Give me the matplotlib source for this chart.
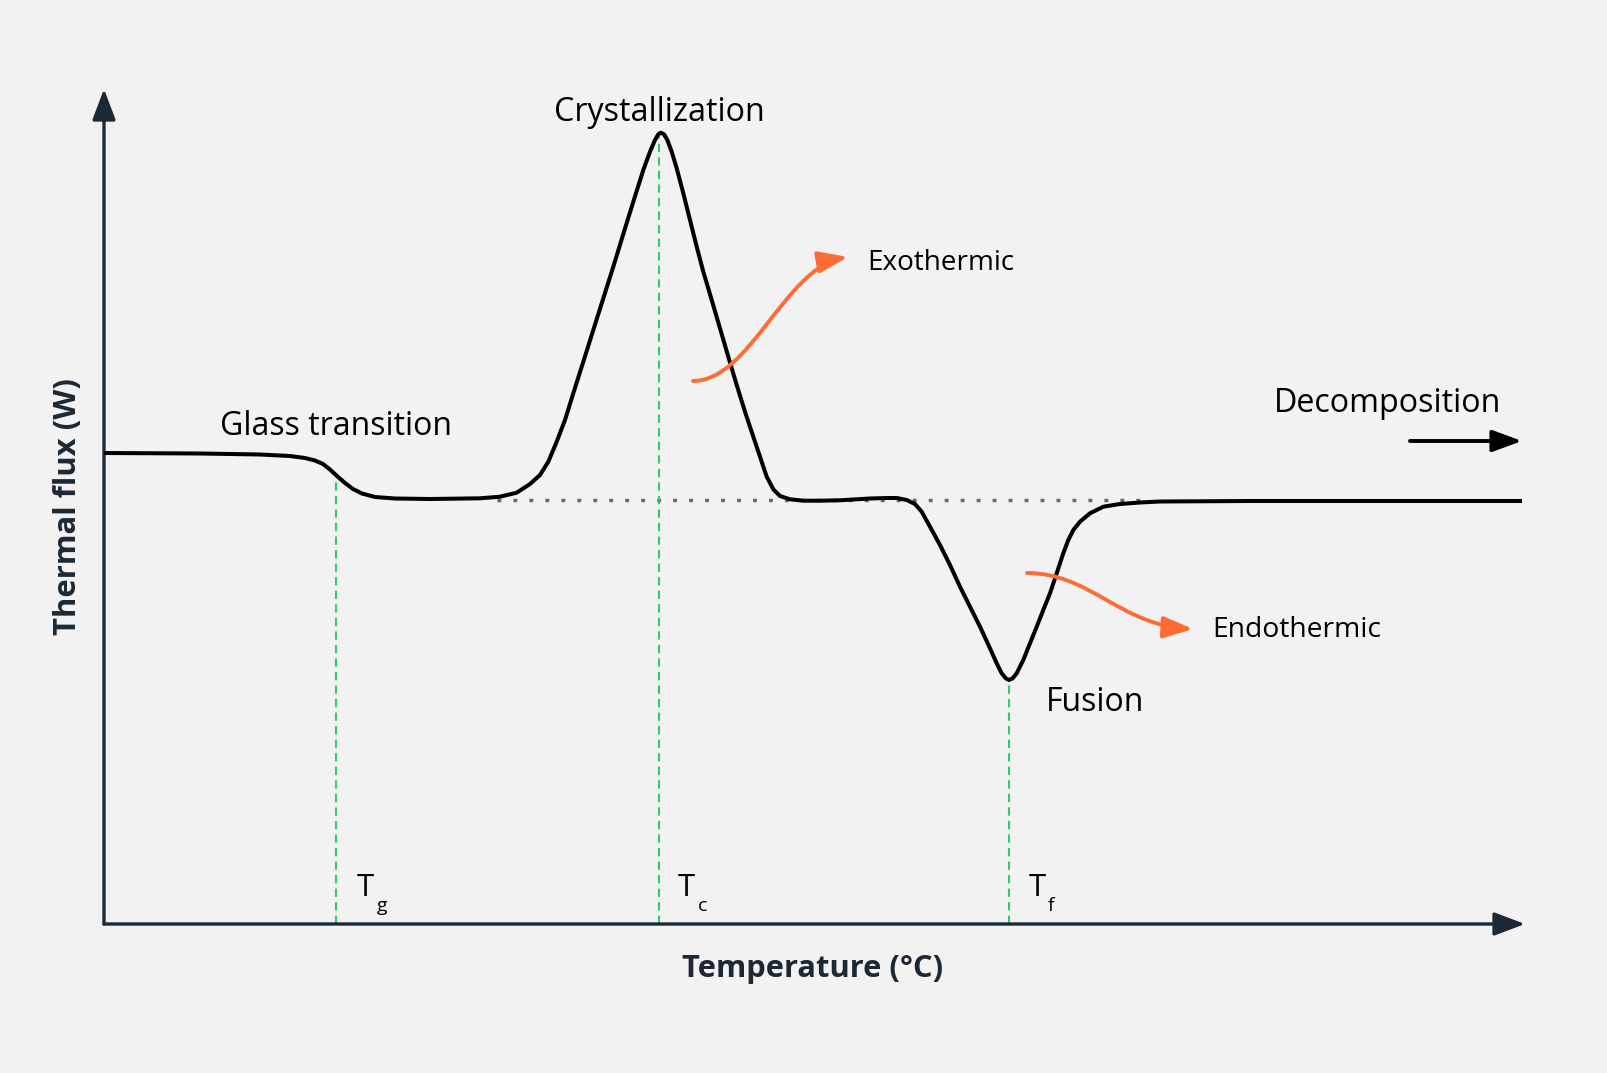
import matplotlib
matplotlib.use("Agg")
import matplotlib.pyplot as plt
from matplotlib.patches import FancyArrowPatch
from matplotlib.path import Path

# ---------------- data (arbitrary units: temperature 0-1418, thermal flux 0-834) ----------------
temperature = [0, 96, 156, 186, 201, 211, 219, 226, 233, 241, 249, 258, 271, 291, 326,
               376, 396, 412.7, 426, 436, 444.3, 452.7, 461, 469.3, 479.3, 489.3, 499.3,
               509.3, 519.3, 529.3, 539.3, 546, 551, 554.3, 556.7, 560, 563.3, 567.7,
               572.7, 579.3, 586, 592.7, 599.3, 607.7, 616, 624.3, 632.7, 641, 649.3,
               656, 662.7, 669.3, 676, 686, 699.3, 716, 736, 766, 783, 792.7, 802.7, 811,
               817.7, 826, 836, 846, 856, 866, 876, 886, 892.7, 897.7, 901.7, 905, 908.7,
               912.7, 919.3, 926, 932.7, 939.3, 946, 952.7, 959.3, 964.3, 969.3, 976, 986,
               999.3, 1016, 1036, 1056, 1146, 1418]
flux = [471, 470.5, 469.5, 468, 466, 463.5, 460, 454.5, 448, 441, 435, 430.5, 427, 425.5,
        425, 425.7, 427.3, 431.3, 440, 449, 462.3, 482.3, 504, 530.7, 562.3, 594, 625.7,
        657.3, 690, 722.3, 754, 772.3, 784, 789.7, 791.3, 789.7, 784, 772.3, 755.7,
        730.7, 704, 677.3, 652.3, 624, 595.7, 567.3, 539, 512.3, 487.3, 467.3, 447.3,
        434.7, 428, 424.7, 423.3, 423.3, 423.7, 425.5, 426, 426, 424, 420, 412.3, 397.3,
        379, 359, 337.3, 317.3, 297.3, 275.7, 260.7, 250.7, 245.7, 244, 245.7, 250.7,
        264, 280.7, 297.3, 314, 330.7, 350.7, 370.7, 384, 394, 402.3, 410.7, 417.3,
        420, 421.5, 422.5, 423, 423]

baseline_range = [393, 1036]
baseline_flux = 424.5

transition_names = ["g", "c", "f"]
transition_temps = [231.7, 555.3, 904.5]
transition_flux = [450, 791, 244]

# S-shaped annotation arrows (bezier control points, data units)
exo_arrow = [(589, 543), (646, 543), (681, 656), (744, 667)]
endo_arrow = [(923, 351), (986, 351), (1016, 299), (1089, 295)]
decomp_arrow = [(1306, 483), (1418, 483)]

X_MAX, Y_MAX = 1418, 834

# ---------------- figure ----------------
W, H = 1607, 1073
BG = "#f2f2f2"
NAVY = "#1c2833"
ORANGE = "#ff6b35"
GREEN = "#2ecc71"
FONT = "Open Sans"

fig = plt.figure(figsize=(W / 100, H / 100), dpi=100, facecolor=BG)
ax = fig.add_axes([104 / W, (H - 924) / H, 1418 / W, 834 / H])
ax.set_facecolor(BG)
ax.set_xlim(0, X_MAX)
ax.set_ylim(0, Y_MAX)
ax.set_axis_off()

def fx(px):
    return px / W

def fy(py):
    return 1 - py / H

# axes with arrowheads
axis_arrow = dict(arrowstyle="-|>,head_length=0.45,head_width=0.17", color=NAVY,
                  lw=2.4, mutation_scale=42, shrinkA=0, shrinkB=0)
ax.annotate("", xy=(X_MAX + 3, 0), xytext=(0, 0), annotation_clip=False,
            arrowprops=axis_arrow)
ax.annotate("", xy=(0, Y_MAX + 1), xytext=(0, 0), annotation_clip=False,
            arrowprops=axis_arrow)

# dotted baseline
ax.plot(baseline_range, [baseline_flux, baseline_flux], color="#666666", lw=2.5,
        linestyle=(0, (1.1, 3.5)), zorder=2)

# green dashed transition lines
for t, f in zip(transition_temps, transition_flux):
    ax.plot([t, t], [0, f], color=GREEN, lw=1.5, linestyle=(0, (4, 2.5)), zorder=2)

# DSC curve
ax.plot(temperature, flux, color="black", lw=2.9, solid_joinstyle="round",
        solid_capstyle="butt", zorder=3)

# orange S arrows
for pts in (exo_arrow, endo_arrow):
    path = Path(pts, [Path.MOVETO, Path.CURVE4, Path.CURVE4, Path.CURVE4])
    arr = FancyArrowPatch(path=path, arrowstyle="-|>,head_length=0.9,head_width=0.33",
                          mutation_scale=20, color=ORANGE, lw=2.8, transform=ax.transData,
                          zorder=4)
    ax.add_patch(arr)

# decomposition arrow
ax.annotate("", xy=decomp_arrow[1], xytext=decomp_arrow[0], annotation_clip=False,
            arrowprops=dict(arrowstyle="-|>,head_length=0.9,head_width=0.33", color="black",
                            lw=2.8, mutation_scale=20, shrinkA=0, shrinkB=0))

# ---------------- texts ----------------
txt = dict(family=FONT, color="black")
fig.text(fx(220), fy(435), "Glass transition", fontsize=23, va="baseline", ha="left", **txt)
fig.text(fx(554), fy(121), "Crystallization", fontsize=23.2, va="baseline", ha="left", **txt)
fig.text(fx(867), fy(270), "Exothermic", fontsize=20.1, va="baseline", ha="left", **txt)
fig.text(fx(1212), fy(637), "Endothermic", fontsize=20.3, va="baseline", ha="left", **txt)
fig.text(fx(1046), fy(711), "Fusion", fontsize=23, va="baseline", ha="left", **txt)
fig.text(fx(1274), fy(412), "Decomposition", fontsize=23.2, va="baseline", ha="left", **txt)

T_left = [357, 678, 1029]
sub_left = [377, 698, 1048]
for tl, sl, name in zip(T_left, sub_left, transition_names):
    fig.text(fx(tl), fy(896), "T", fontsize=22.5, va="baseline", ha="left", **txt)
    fig.text(fx(sl), fy(911), name, fontsize=14, va="baseline", ha="left", **txt)

fig.text(fx(813), fy(977), "Temperature (°C)", fontsize=22.2, fontweight="bold",
         va="baseline", ha="center", family=FONT, color=NAVY)
fig.text(fx(68), fy(507), "Thermal flux (W)", fontsize=22.4, fontweight="bold",
         rotation=90, va="center", ha="center", family=FONT, color=NAVY)

fig.savefig("out.png", dpi=100, facecolor=BG)
